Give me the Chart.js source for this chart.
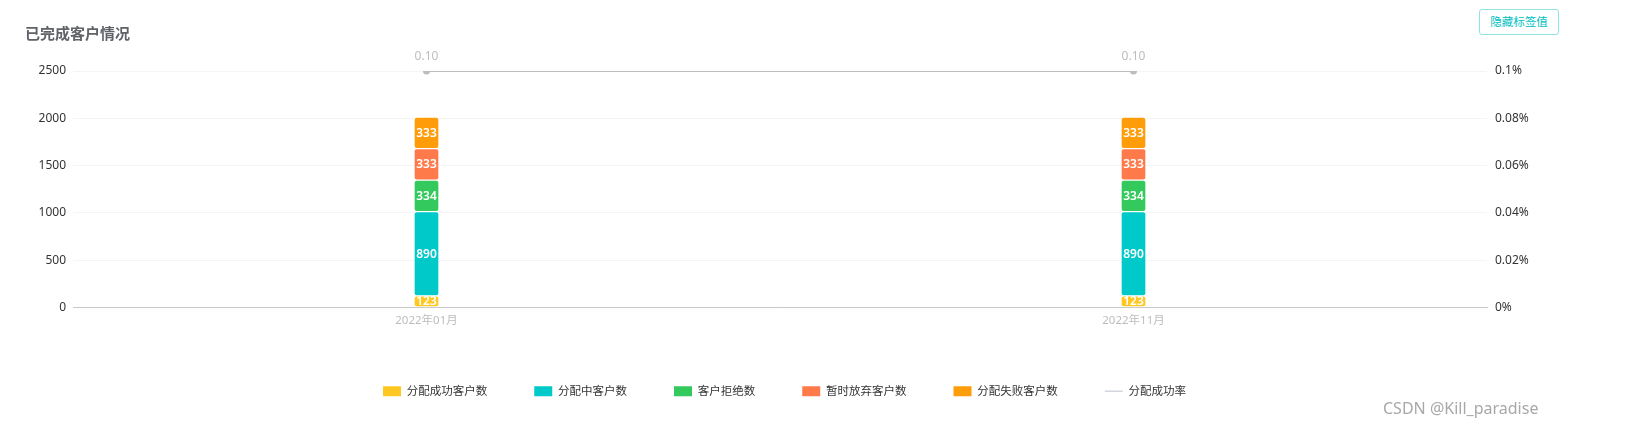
<!DOCTYPE html>
<html>
<head>
<meta charset="utf-8">
<title>已完成客户情况</title>
<script src="https://cdn.jsdelivr.net/npm/chart.js@4/dist/chart.umd.min.js"></script>
<style>
    html, body {
        margin: 0;
        padding: 0;
        background: #fff;
        font-family: 'Noto Sans', 'Noto Sans CJK SC', sans-serif;
    }
    .wrap {
        position: relative;
        width: 1645px;
        height: 447px;
        overflow: hidden;
    }
    .title {
        position: absolute;
        left: 25px;
        top: 22px;
        font-size: 15px;
        font-weight: bold;
        color: #5f6368;
    }
    .toggle-btn {
        position: absolute;
        left: 1479px;
        top: 9px;
        width: 80px;
        height: 26px;
        box-sizing: border-box;
        border: 1px solid #8fe3e3;
        border-radius: 3px;
        background: #fff;
        color: #00bfbf;
        font-size: 11.5px;
        line-height: 24px;
        text-align: center;
    }
    .watermark {
        position: absolute;
        left: 1383px;
        top: 397px;
        font-size: 16px;
        color: #a8a8a8;
    }
    #chart-box {
        position: absolute;
        left: 0;
        top: 0;
        width: 1645px;
        height: 447px;
    }
</style>
</head>
<body>
<div class="wrap">
    <div id="chart-box"><canvas id="customerChart"></canvas></div>
    <div class="title">已完成客户情况</div>
    <div class="toggle-btn">隐藏标签值</div>
    <div class="watermark">CSDN @Kill_paradise</div>
</div>
<script>
// Chart data
const months = ['2022年01月', '2022年11月'];
const successCount = [123, 123];
const assigningCount = [890, 890];
const rejectCount = [334, 334];
const giveUpCount = [333, 333];
const failCount = [333, 333];
const successRate = [0.10, 0.10];

const leftTicks = [0, 500, 1000, 1500, 2000, 2500];
const rightTicks = [0, 0.02, 0.04, 0.06, 0.08, 0.1];

const FONT = "'Noto Sans', 'Noto Sans CJK SC', sans-serif";

function barSet(label, data, color) {
    return {
        type: 'bar',
        label: label,
        data: data,
        backgroundColor: color,
        borderColor: '#ffffff',
        borderWidth: 1,
        borderSkipped: false,
        borderRadius: { topLeft: 3, topRight: 3, bottomLeft: 3, bottomRight: 3 },
        barThickness: 25,
        stack: 'customers',
        yAxisID: 'y'
    };
}

// Draws the value labels on bars and line points
const valueLabels = {
    id: 'valueLabels',
    afterDatasetsDraw(chart) {
        const ctx = chart.ctx;
        ctx.save();
        ctx.textAlign = 'center';
        ctx.textBaseline = 'middle';
        chart.data.datasets.forEach((ds, i) => {
            const meta = chart.getDatasetMeta(i);
            if (meta.hidden) return;
            meta.data.forEach((el, j) => {
                const v = ds.data[j];
                if (ds.type === 'bar') {
                    const p = el.getProps(['x', 'y', 'base'], true);
                    ctx.font = '600 12px ' + FONT;
                    ctx.fillStyle = '#ffffff';
                    ctx.fillText(String(v), p.x, (p.y + p.base) / 2 + 0.5);
                } else {
                    const p = el.getProps(['x', 'y'], true);
                    ctx.font = '12px ' + FONT;
                    ctx.fillStyle = '#bdbdbd';
                    ctx.fillText(v.toFixed(2), p.x, p.y - 14);
                }
            });
        });
        ctx.restore();
    }
};

const ctx = document.getElementById('customerChart').getContext('2d');

new Chart(ctx, {
    data: {
        labels: months,
        datasets: [
            barSet('分配成功客户数', successCount, '#ffc71f'),
            barSet('分配中客户数', assigningCount, '#00c9c9'),
            barSet('客户拒绝数', rejectCount, '#33c95c'),
            barSet('暂时放弃客户数', giveUpCount, '#ff7a4a'),
            barSet('分配失败客户数', failCount, '#ff9c0a'),
            {
                type: 'line',
                label: '分配成功率',
                data: successRate,
                borderColor: '#bcbcbc',
                backgroundColor: '#bcbcbc',
                borderWidth: 2,
                pointRadius: 3.5,
                pointHoverRadius: 3.5,
                pointBackgroundColor: '#bcbcbc',
                pointBorderWidth: 0,
                yAxisID: 'y1'
            }
        ]
    },
    options: {
        responsive: true,
        maintainAspectRatio: false,
        animation: false,
        layout: {
            padding: { top: 71, left: 0, right: 76, bottom: 40 }
        },
        plugins: {
            title: { display: false },
            tooltip: { enabled: false },
            legend: {
                display: true,
                position: 'bottom',
                labels: {
                    usePointStyle: true,
                    pointStyleWidth: 18,
                    boxHeight: 10,
                    padding: 47,
                    color: '#333333',
                    font: { size: 11.5, family: FONT },
                    generateLabels(chart) {
                        const items = Chart.defaults.plugins.legend.labels.generateLabels(chart);
                        items.forEach(item => {
                            const ds = chart.data.datasets[item.datasetIndex];
                            if (ds.type === 'line') {
                                item.pointStyle = 'line';
                                item.strokeStyle = '#d3d6dc';
                                item.lineWidth = 1.5;
                            } else {
                                item.pointStyle = 'rect';
                                item.strokeStyle = ds.backgroundColor;
                                item.lineWidth = 0;
                            }
                        });
                        return items;
                    }
                }
            }
        },
        scales: {
            x: {
                stacked: true,
                grid: { display: false, drawTicks: false },
                border: { display: true, color: '#c8c8c8', width: 1 },
                ticks: {
                    color: '#bdbdbd',
                    padding: 6,
                    font: { size: 11.5, family: FONT }
                },
                afterFit(scale) { scale.height = 31; }
            },
            y: {
                stacked: true,
                position: 'left',
                min: 0,
                max: 2500,
                afterBuildTicks(scale) {
                    scale.ticks = leftTicks.map(v => ({ value: v }));
                },
                grid: { color: '#f4f4f4', drawTicks: false },
                border: { display: false },
                ticks: {
                    color: '#333333',
                    padding: 7,
                    font: { size: 12, family: FONT },
                    callback: value => String(value)
                },
                afterFit(scale) { scale.width = 73; }
            },
            y1: {
                position: 'right',
                min: 0,
                max: 0.1,
                afterBuildTicks(scale) {
                    scale.ticks = rightTicks.map(v => ({ value: v }));
                },
                grid: { display: false, drawTicks: false },
                border: { display: false },
                ticks: {
                    color: '#333333',
                    padding: 8,
                    font: { size: 12, family: FONT },
                    callback: value => parseFloat(value.toFixed(2)) + '%'
                },
                afterFit(scale) { scale.width = 82; }
            }
        }
    },
    plugins: [valueLabels]
});
</script>
</body>
</html>
